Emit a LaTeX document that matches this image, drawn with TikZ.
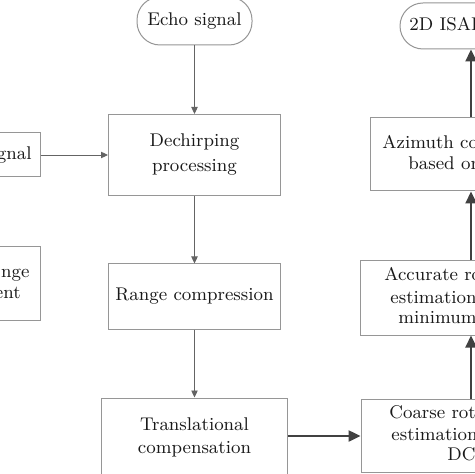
\documentclass[tikz,border=0pt]{standalone}
\usepackage{fontspec}
\usepackage{tikz}
\usetikzlibrary{arrows.meta}
\usepackage{xcolor}
\definecolor{boxgray}{RGB}{150,150,150}
\definecolor{linegray}{RGB}{100,100,100}
\definecolor{darkline}{RGB}{65,65,65}
\definecolor{textcol}{RGB}{25,25,25}

\begin{document}
\begin{tikzpicture}[x=0.5pt,y=-0.5pt,
font=\fontsize{9.2}{11.5}\selectfont,text=textcol,
box/.style={draw=boxgray,line width=0.5pt,rectangle,minimum width=86pt,align=center},
terminal/.style={draw=boxgray,line width=0.5pt,rounded corners=11.5pt,minimum height=23pt},
part/.style={inner sep=0pt,anchor=mid west},
connector/.style={draw=linegray,line width=0.45pt,-{Triangle[length=3.5pt,width=3.2pt]}},
mainconnector/.style={draw=darkline,line width=1.2pt,-{Triangle[length=6pt,width=5.5pt]}}]
\useasboundingbox[fill=white] (0,0) rectangle (474,474);

% middle column
\node[terminal,minimum width=57.5pt,minimum height=24pt] (echo) at (194.5,21) {Echo signal};
\node[box,minimum height=40.5pt] (dechirp) at (194.5,155) {Dechirping\\[1pt]processing};
\node[box,minimum height=32.5pt] (rangecomp) at (194.5,296.5) {Range compression};
\node[box,minimum width=93pt,minimum height=39pt] (transcomp) at (194.5,437) {Translational\\compensation};

% left column (cut by the frame)
\node[box,minimum width=55pt,minimum height=22pt] (refsig) at (-15,155) {};
\node[inner sep=0pt,anchor=mid east] (refsigtext) at (32,155) {gnal};
\node[box,minimum width=55pt,minimum height=36.5pt] (rangeref) at (-15,283.5) {};
\node[inner sep=0pt,anchor=mid east] (rangereftexta) at (30,273) {nge};
\node[inner sep=0pt,anchor=mid east] (rangereftextb) at (21,294) {ent};

% right column (cut by the frame)
\node[terminal,minimum width=71pt] (isar) at (471,26) {};
\node[part] (isartext) at (409,26) {2D ISAR};
\node[box,minimum width=101pt,minimum height=36.5pt] (azimuth) at (471,154.5) {};
\node[part] (azimuthtexta) at (382,144) {Azimuth co};
\node[part] (azimuthtextb) at (408,165) {based on};
\node[box,minimum width=111pt,minimum height=37pt] (accurate) at (471,298) {};
\node[part] (accuratetexta) at (384,276) {Accurate ro};
\node[part] (accuratetextb) at (390,299) {estimation};
\node[part] (accuratetextc) at (398,319) {minimum};
\node[box,minimum width=110pt,minimum height=36.5pt] (coarse) at (471,436) {};
\node[part] (coarsetexta) at (389,414) {Coarse rota};
\node[part] (coarsetextb) at (391,436) {estimation};
\node[part] (coarsetextc) at (447,456) {DC};

\draw[connector] (echo) -- (dechirp);
\draw[connector] (refsig) -- (dechirp);
\draw[connector] (dechirp) -- (rangecomp);
\draw[connector] (rangecomp) -- (transcomp);
\draw[mainconnector] (transcomp.east |- coarse) -- (coarse.west);
\draw[mainconnector] (coarse) -- (accurate);
\draw[mainconnector] (accurate) -- (azimuth);
\draw[mainconnector] (azimuth) -- (isar);
\end{tikzpicture}
\end{document}
